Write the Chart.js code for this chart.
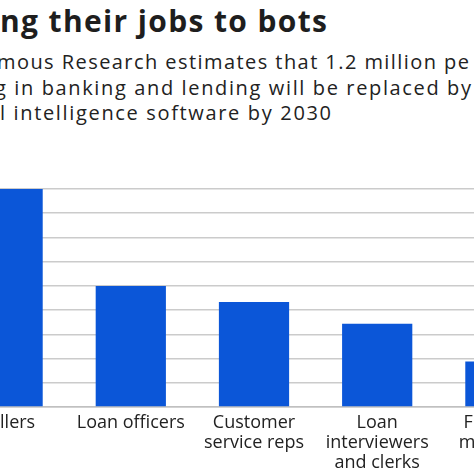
<!DOCTYPE html>
<html>
<head>
<meta charset="utf-8">
<script src="https://cdn.jsdelivr.net/npm/chart.js@4/dist/chart.umd.min.js"></script>
<style>
  html, body { margin: 0; padding: 0; background: #fff; }
  body { width: 474px; height: 474px; overflow: hidden; position: relative; font-family: "Open Sans", sans-serif; color: #1e1e1e; }
  .title { position: absolute; top: 6px; font-size: 30px; line-height: 30px; font-weight: 700; white-space: nowrap; }
  .sub { position: absolute; font-size: 20px; line-height: 20px; white-space: nowrap; color: #222; }
  #wrap { position: absolute; left: -54px; top: 185px; width: 616px; height: 289px; }
</style>
</head>
<body>
<div class="title" data-l="0" data-r="327">ng their jobs to bots</div>
<div class="sub" style="top:52px" data-l="-3" data-r="469">mous Research estimates that 1.2 million pe</div>
<div class="sub" style="top:78px" data-l="-5" data-r="471">g in banking and lending will be replaced by</div>
<div class="sub" style="top:103px" data-l="0" data-r="331">l intelligence software by 2030</div>
<div id="wrap"><canvas id="chart"></canvas></div>
<script>
// jobs replaced by 2030, thousands (50k per gridline)
const categories = [
  'Tellers',
  'Loan officers',
  ['Customer', 'service reps'],
  ['Loan', 'interviewers', 'and clerks'],
  ['Financial', 'managers']
];
const jobsLost = [450, 250, 217, 172, 94];
const yTicks = [0, 50, 100, 150, 200, 250, 300, 350, 400, 450];

// stretch each heading line so it spans the same width as in the source image
function fitLine(el) {
  const left = +el.dataset.l;
  const right = +el.dataset.r;
  el.style.left = left + 'px';
  el.style.letterSpacing = '0px';
  const w = el.getBoundingClientRect().width;
  const n = el.textContent.length;
  el.style.letterSpacing = ((right - left - w) / (n - 1)) + 'px';
}

document.addEventListener('DOMContentLoaded', () => {
  document.querySelectorAll('.title, .sub').forEach(fitLine);

  const ctx = document.getElementById('chart').getContext('2d');
  new Chart(ctx, {
    type: 'bar',
    data: {
      labels: categories,
      datasets: [{
        label: 'Jobs',
        data: jobsLost,
        backgroundColor: '#0b56d8',
        barPercentage: 0.57,
        categoryPercentage: 1
      }]
    },
    options: {
      responsive: true,
      maintainAspectRatio: false,
      animation: false,
      layout: { padding: { top: 4, left: 0, right: 0, bottom: 0 } },
      plugins: { legend: { display: false }, tooltip: { enabled: false } },
      scales: {
        x: {
          grid: { display: false, drawTicks: false },
          border: { display: true, color: '#c0c0c0', width: 1.5 },
          ticks: {
            autoSkip: false, maxRotation: 0, padding: 6,
            color: '#222',
            font: { family: '"Open Sans", sans-serif', size: 18, lineHeight: 1.11 }
          },
          afterFit: (scale) => { scale.height = 67; }
        },
        y: {
          display: true,
          min: 0,
          max: yTicks[yTicks.length - 1],
          afterBuildTicks: (scale) => { scale.ticks = yTicks.map((v) => ({ value: v })); },
          grid: { color: '#cbcbcb', lineWidth: 1.5, drawTicks: false },
          border: { display: false },
          ticks: { display: false },
          afterFit: (scale) => { scale.width = 0; }
        }
      }
    }
  });
});
</script>
</body>
</html>
